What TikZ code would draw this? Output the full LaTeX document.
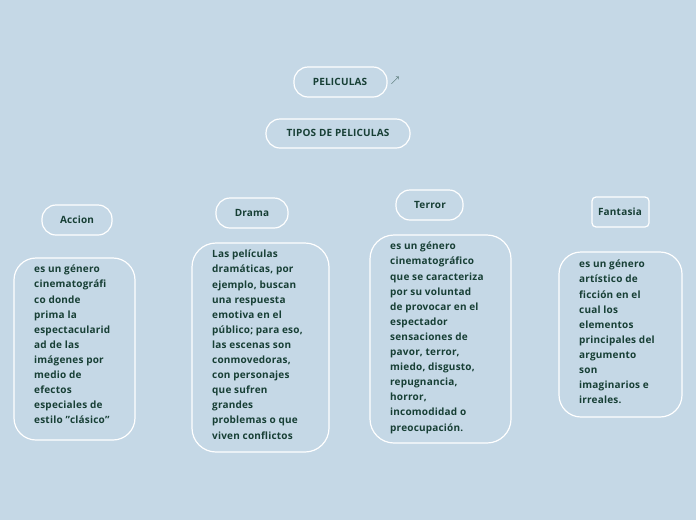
\documentclass[tikz,border=0pt]{standalone}
\usepackage{fontspec}
\setmainfont{Open Sans}[LetterSpace=2]
\begin{document}
\begin{tikzpicture}[x=1pt,y=-1pt,
 txt/.style={text=tc, font=\bfseries\fontsize{10}{15.1}\selectfont},
 box/.style={draw=white, line width=1.2pt, rounded corners=14pt},
 body/.style={txt, align=left, anchor=north west, inner sep=0pt}]
\definecolor{bg}{HTML}{C5D8E6}
\definecolor{tc}{HTML}{173F35}
\fill[bg] (0,0) rectangle (696,520);
\useasboundingbox (0,0) rectangle (696,520);
\draw[box] (294,67) rectangle (387,97); \node[txt] (p) at (340,82) {PELICULAS};
\node[txt,font=\fontsize{8}{8}\selectfont] (ic) at (395,80) {$\nearrow$};
\draw[box] (266,119) rectangle (410,148); \node[txt] (t) at (338,133) {TIPOS DE PELICULAS};
\draw[box] (42,205) rectangle (112,235); \node[txt] (a) at (77,220) {Accion};
\draw[box] (216,198) rectangle (288,228); \node[txt] (d) at (252,213) {Drama};
\draw[box] (396,190) rectangle (463,220); \node[txt] (te) at (430,205) {Terror};
\draw[box,rounded corners=4pt] (592,197) rectangle (649,227); \node[txt] (f) at (620,212) {Fantasia};
\draw[box,rounded corners=22pt] (14,258) rectangle (135,440);
\node[body] (ab) at (34,265) {es un género\\cinematográfi\\co donde\\prima la\\espectacularid\\ad de las\\imágenes por\\medio de\\efectos\\especiales de\\estilo "clásico"};
\draw[box,rounded corners=24pt] (192,243) rectangle (329,452);
\node[body] (db) at (212,250) {Las películas\\dramáticas, por\\ejemplo, buscan\\una respuesta\\emotiva en el\\público; para eso,\\las escenas son\\conmovedoras,\\con personajes\\que sufren\\grandes\\problemas o que\\viven conflictos};
\draw[box,rounded corners=24pt] (370,235) rectangle (511,443);
\node[body] (tb) at (390,242) {es un género\\cinematográfico\\que se caracteriza\\por su voluntad\\de provocar en el\\espectador\\sensaciones de\\pavor, terror,\\miedo, disgusto,\\repugnancia,\\horror,\\incomodidad o\\preocupación.};
\draw[box,rounded corners=22pt] (559,252) rectangle (682,417);
\node[body] (fb) at (579,260) {es un género\\artístico de\\ficción en el\\cual los\\elementos\\principales del\\argumento\\son\\imaginarios e\\irreales.};
\end{tikzpicture}
\end{document}
